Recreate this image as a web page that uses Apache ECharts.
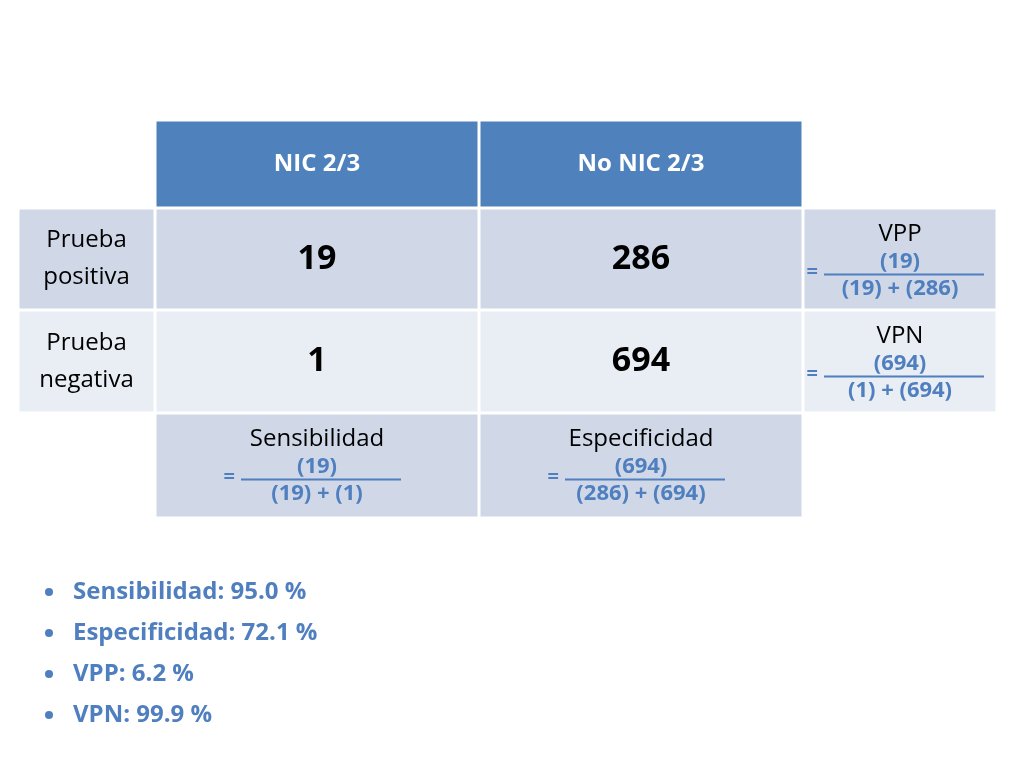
<!DOCTYPE html>
<html><head><meta charset="utf-8">
<script src="https://cdn.jsdelivr.net/npm/echarts@6/dist/echarts.min.js"></script>
<style>html,body{margin:0;background:#fff}#c{width:1024px;height:768px}</style>
</head><body><div id="c"></div>
<script>
const columns = ['', 'NIC 2/3', 'No NIC 2/3', ''];
const rowLabels = ['', 'Prueba\npositiva', 'Prueba\nnegativa', ''];
const counts = [[19, 286], [1, 694]];
const summary = ['Sensibilidad: 95.0 %', 'Especificidad: 72.1 %', 'VPP: 6.2 %', 'VPN: 99.9 %'];

const colEdges = [0, 137, 461, 785, 979];
const rowEdges = [0, 88, 190, 293, 398];
const HEAD = '#4F81BD', C1 = '#D0D8E8', C2 = '#E9EDF4', BLUE = '#4F7FBE';
const font = '"Open Sans", sans-serif';

// cells: [col,row,kind]
const cells = [];
cells.push([1,0,'head',columns[1]]);
cells.push([2,0,'head',columns[2]]);
cells.push([0,1,'label',rowLabels[1]]);
cells.push([0,2,'label',rowLabels[2]]);
cells.push([1,1,'num',String(counts[0][0])]);
cells.push([2,1,'num',String(counts[0][1])]);
cells.push([1,2,'num',String(counts[1][0])]);
cells.push([2,2,'num',String(counts[1][1])]);
cells.push([3,1,'frac',['VPP','('+counts[0][0]+')','('+counts[0][0]+') + ('+counts[0][1]+')']]);
cells.push([3,2,'frac',['VPN','('+counts[1][1]+')','('+counts[1][0]+') + ('+counts[1][1]+')']]);
cells.push([1,3,'frac',['Sensibilidad','('+counts[0][0]+')','('+counts[0][0]+') + ('+counts[1][0]+')']]);
cells.push([2,3,'frac',['Especificidad','('+counts[1][1]+')','('+counts[0][1]+') + ('+counts[1][1]+')']]);

function fill(c,r,k){ if(k==='head') return HEAD; if(r===2) return C2; return C1; }

const chart = echarts.init(document.getElementById('c'));
chart.setOption({
  animation:false,
  grid:{left:18, top:120, width:979, height:398},
  xAxis:{type:'value', min:0, max:979, show:false},
  yAxis:{type:'value', min:0, max:398, inverse:true, show:false},
  series:[{
    type:'custom',
    data: cells.map((c,i)=>[c[0],c[1],i]),
    renderItem:(params, api)=>{
      const cell = cells[api.value(2)];
      const c=cell[0], r=cell[1], k=cell[2];
      const p0 = api.coord([colEdges[c], rowEdges[r]]);
      const p1 = api.coord([colEdges[c+1], rowEdges[r+1]]);
      const x=p0[0]+1.5, y=p0[1]+1.5, w=p1[0]-p0[0]-3, h=p1[1]-p0[1]-3;
      const cx=x+w/2, cy=y+h/2;
      const ch=[{type:'rect', shape:{x,y,width:w,height:h}, style:{fill:fill(c,r,k)}}];
      if(k==='head'){
        ch.push({type:'text', style:{text:cell[3], x:cx, y:cy, align:'center', verticalAlign:'middle', fill:'#fff', font:'bold 24px '+font}});
      } else if(k==='label'){
        ch.push({type:'text', style:{text:cell[3], x:cx, y:cy, align:'center', verticalAlign:'middle', fill:'#000', font:'24px '+font, lineHeight:37}});
      } else if(k==='num'){
        ch.push({type:'text', style:{text:cell[3], x:cx, y:cy, align:'center', verticalAlign:'middle', fill:'#000', font:'bold 34px '+font}});
      } else {
        const t=cell[3];
        const top = y+13;
        ch.push({type:'text', style:{text:t[0], x:cx, y:top+12, align:'center', verticalAlign:'middle', fill:'#000', font:'24px '+font}});
        const lw = c===3 ? 160 : 160;
        const lx = cx - lw/2 + 4;
        ch.push({type:'text', style:{text:'=', x:lx-6, y:top+50, align:'right', verticalAlign:'middle', fill:BLUE, font:'bold 20px '+font}});
        ch.push({type:'text', style:{text:t[1], x:cx, y:top+39, align:'center', verticalAlign:'middle', fill:BLUE, font:'bold 22px '+font}});
        ch.push({type:'line', shape:{x1:lx, y1:top+52, x2:lx+lw, y2:top+52}, style:{stroke:BLUE, lineWidth:2}});
        ch.push({type:'text', style:{text:t[2], x:cx, y:top+66, align:'center', verticalAlign:'middle', fill:BLUE, font:'bold 22px '+font}});
      }
      return {type:'group', children:ch};
    }
  }],
  graphic: summary.map((s,i)=>({
    type:'group', left:45, top:580+i*41,
    children:[
      {type:'circle', shape:{cx:8, cy:14, r:4}, style:{fill:BLUE}},
      {type:'text', style:{text:s, x:32, y:2, fill:BLUE, font:'bold 24px '+font}}
    ]
  }))
});
</script></body></html>
